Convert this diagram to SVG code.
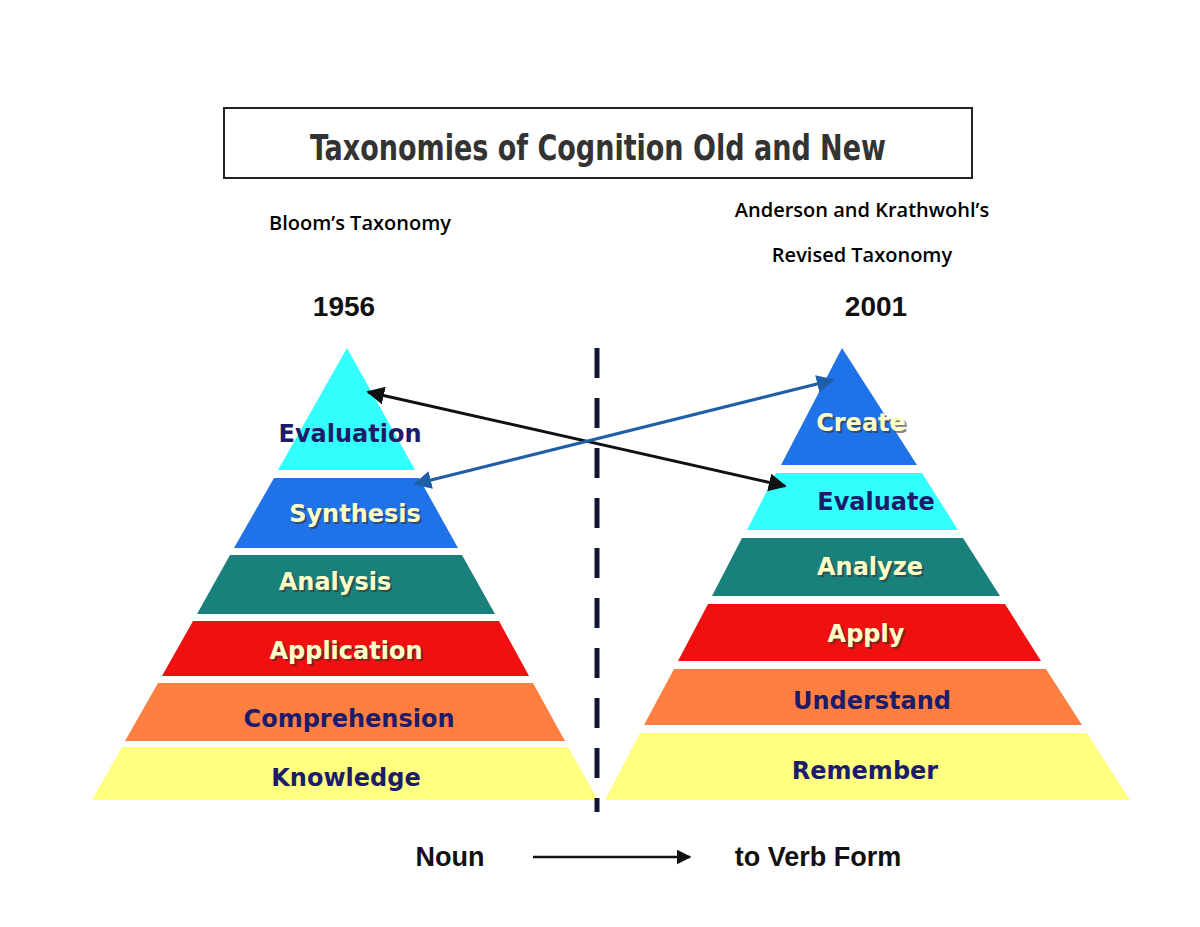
<svg xmlns="http://www.w3.org/2000/svg" width="1200" height="927" viewBox="0 0 1200 927">
<defs>
<style>
.lab{font-family:"DejaVu Sans",Verdana,sans-serif;font-weight:bold;font-size:24px;text-anchor:middle}
.navy{fill:#1c1c6a}
.pale{fill:#ffffc8}
.sh{fill:#333;opacity:0.6}
.sub{font-family:"Open Sans","Liberation Sans",sans-serif;font-weight:600;font-size:20px;fill:#000;text-anchor:middle}
.yr{font-family:"Liberation Sans",Arial,sans-serif;font-weight:bold;font-size:28px;fill:#111;text-anchor:middle}
.bot{font-family:"Liberation Sans",Arial,sans-serif;font-weight:bold;font-size:27px;fill:#111;text-anchor:middle}
</style>
<marker id="ak" viewBox="0 0 10 10" refX="9" refY="5" markerWidth="6" markerHeight="6" orient="auto-start-reverse"><path d="M0,0L10,5L0,10z" fill="#111"/></marker>
<marker id="ab" viewBox="0 0 10 10" refX="9" refY="5" markerWidth="6" markerHeight="6" orient="auto-start-reverse"><path d="M0,0L10,5L0,10z" fill="#1f5fa8"/></marker>
</defs>
<rect width="1200" height="927" fill="#fff"/>
<g id="title">
<rect x="224" y="108" width="748" height="70" fill="#fff" stroke="#222" stroke-width="2"/>
<text x="598" y="160" font-family="'DejaVu Sans Condensed','DejaVu Sans',sans-serif" font-weight="bold" font-size="36" fill="#333" text-anchor="middle" textLength="576" lengthAdjust="spacingAndGlyphs">Taxonomies of Cognition Old and New</text>
</g>
<g id="headers">
<text class="sub" x="360" y="230">Bloom’s Taxonomy</text>
<text class="sub" x="862" y="217">Anderson and Krathwohl’s</text>
<text class="sub" x="862" y="262">Revised Taxonomy</text>
<text class="yr" x="344" y="316">1956</text>
<text class="yr" x="876" y="316">2001</text>
</g>
<g id="bloom">
<polygon points="347,348 415,470 278,470" fill="#33ffff"/>
<polygon points="274,478 419,478 458,548 234,548" fill="#1f72e8"/>
<polygon points="230,555 462,555 495,614 197,614" fill="#19807c"/>
<polygon points="193,621 499,621 529,676 162,676" fill="#f01010"/>
<polygon points="158,683 533,683 565,741 125,741" fill="#ff7f40"/>
<polygon points="122,747 568,747 598,800 92,800" fill="#ffff80"/>
<text class="lab navy" x="350" y="442">Evaluation</text>
<text class="lab sh" x="357" y="524">Synthesis</text><text class="lab pale" x="355" y="522">Synthesis</text>
<text class="lab sh" x="337" y="592">Analysis</text><text class="lab pale" x="335" y="590">Analysis</text>
<text class="lab sh" x="348" y="661">Application</text><text class="lab pale" x="346" y="659">Application</text>
<text class="lab navy" x="349" y="727">Comprehension</text>
<text class="lab navy" x="346" y="786">Knowledge</text>
</g>
<g id="revised">
<polygon points="842,348 917,465 781,465" fill="#1f72e8"/>
<polygon points="776,473 922,473 958,530 747,530" fill="#33ffff"/>
<polygon points="742,538 963,538 1000,596 712,596" fill="#19807c"/>
<polygon points="708,604 1005,604 1041,661 678,661" fill="#f01010"/>
<polygon points="674,669 1046,669 1082,725 644,725" fill="#ff7f40"/>
<polygon points="640,733 1087,733 1130,800 605,800" fill="#ffff80"/>
<text class="lab sh" x="863" y="433">Create</text><text class="lab pale" x="861" y="431">Create</text>
<text class="lab navy" x="876" y="510">Evaluate</text>
<text class="lab sh" x="872" y="577">Analyze</text><text class="lab pale" x="870" y="575">Analyze</text>
<text class="lab sh" x="868" y="644">Apply</text><text class="lab pale" x="866" y="642">Apply</text>
<text class="lab navy" x="872" y="709">Understand</text>
<text class="lab navy" x="865" y="779">Remember</text>
</g>
<g id="connectors">
<line x1="597" y1="348" x2="597" y2="812" stroke="#111633" stroke-width="5" stroke-dasharray="30 20"/>
<line x1="368" y1="392" x2="785" y2="486" stroke="#111" stroke-width="3" marker-start="url(#ak)" marker-end="url(#ak)"/>
<line x1="415" y1="484" x2="833" y2="380" stroke="#1f5fa8" stroke-width="3" marker-start="url(#ab)" marker-end="url(#ab)"/>
<line x1="533" y1="857" x2="690" y2="857" stroke="#111" stroke-width="2.5" marker-end="url(#ak)"/>
</g>
<g id="bottom">
<text class="bot" x="450" y="866">Noun</text>
<text class="bot" x="818" y="866">to Verb Form</text>
</g>
</svg>
